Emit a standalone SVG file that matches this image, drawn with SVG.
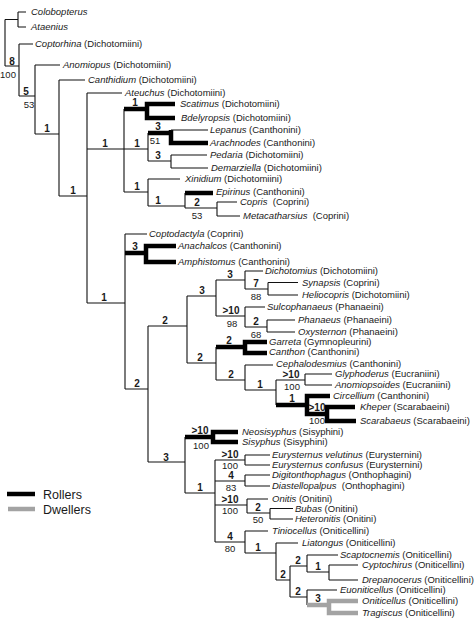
<svg xmlns="http://www.w3.org/2000/svg" width="474" height="628" viewBox="0 0 474 628">
<style>
.t{stroke:#111;stroke-width:1.1;fill:none}
.k{stroke:#000;stroke-width:4.5;fill:none}
.g{stroke:#a3a3a3;stroke-width:4.5;fill:none}
text{font-family:"Liberation Sans",Arial,sans-serif;fill:#1a1a1a}
.lf{font-size:9.5px}
.i{font-style:italic}
.b{font-size:10px;font-weight:bold;text-anchor:middle}
.r{font-size:9.5px;text-anchor:middle}
.lg{font-size:12.5px}
</style>
<rect width="474" height="628" fill="#fff"/>
<g id="connectors">
<path class="t" d="M5,19.5V66M5,19.5H18M5,66H19M18,12V27M18,12H26M18,27H26"/>
<path class="t" d="M19,44V96M19,44H33M19,96H35M35,65V134M35,65H60M35,134H59"/>
<path class="t" d="M59,80V196M59,80H85M59,196H87M87,93V303M87,93H122M87,149H124M87,303H125"/>
<path class="t" d="M124,109V192M124,149H148M124,192H148"/>
<path class="k" d="M124,109H147M175,104H147V118H175"/>
<path class="t" d="M148,133V161M148,161H171M171,155V168M171,155H207M171,168H208"/>
<path class="k" d="M148,133H171M171,130V143H208"/>
<path class="t" d="M171,130H208"/>
<path class="t" d="M148,179V206M148,179H180M148,206H185M185,193V208M185,208H217M217,202V216M217,202H237M217,216H240"/>
<path class="k" d="M185,193H213"/>
<path class="t" d="M125,234V389M125,234H147M125,389H148"/>
<path class="k" d="M125,253H146M176,246H146V262H176"/>
<path class="t" d="M148,326V462M148,326H187M148,462H185M187,296V363M187,296H216M187,363H216"/>
<path class="t" d="M216,280V316M216,280H245M216,316H245M245,271V289M245,271H263M245,289H268M268,282.5V295M268,282.5H298M268,295H298"/>
<path class="t" d="M245,307V327M245,307H265M245,327H267M267,320V332M267,320H295M267,332H295"/>
<path class="t" d="M216,347V380M216,380H245M245,365V390M245,365H273M245,390H276M276,380V405M276,380H305M305,374V385M305,374H332M305,385H332"/>
<path class="k" d="M216,347H245M267,342H245V353H267"/>
<path class="k" d="M276,405H307M330,396H307V414H327M355,407H327V421H356"/>
<path class="t" d="M185,437V493M185,493H215M215,460V542M215,460H245M215,481H245M215,505H247M215,542H245"/>
<path class="k" d="M185,437H213M238,432H213V442H238"/>
<path class="t" d="M245,455V465M245,455H270M245,465H270M245,475V486M245,475H270M245,486H270"/>
<path class="t" d="M247,499V513M247,499H268M247,513H270M270,508.5V519M270,508.5H293M270,519H293"/>
<path class="t" d="M245,531V553M245,531H268M245,553H276M276,543V580M276,543H298M276,580H290M290,566V597M290,566H307M290,597H307"/>
<path class="t" d="M307,555V572M307,555H338M307,572H329M329,565V580M329,565H358M329,580H358M307,590V605M307,590H337"/>
<path class="g" d="M307,605H329M358,601H329V613H358"/>
</g>
<g id="support">
<text class="b" x="12" y="64.5">8</text><text class="r" x="8" y="77.5">100</text>
<text class="b" x="26" y="94.5">5</text><text class="r" x="29" y="107.5">53</text>
<text class="b" x="47" y="132">1</text>
<text class="b" x="73" y="194">1</text>
<text class="b" x="105" y="147">1</text>
<text class="b" x="135" y="106">1</text>
<text class="b" x="137" y="147">1</text>
<text class="b" x="158" y="130">3</text><text class="r" x="155" y="144">51</text>
<text class="b" x="158" y="159">3</text>
<text class="b" x="137" y="190">1</text>
<text class="b" x="158" y="204">1</text>
<text class="b" x="197" y="206">2</text><text class="r" x="197" y="219">53</text>
<text class="b" x="104" y="301">1</text>
<text class="b" x="135" y="250">3</text>
<text class="b" x="137" y="387">2</text>
<text class="b" x="165" y="324">2</text>
<text class="b" x="202" y="294">3</text>
<text class="b" x="230" y="278">3</text>
<text class="b" x="256" y="287">7</text><text class="r" x="256" y="299.5">88</text>
<text class="b" x="231" y="314">&gt;10</text><text class="r" x="232" y="326.5">98</text>
<text class="b" x="256" y="325">2</text><text class="r" x="256" y="337.5">68</text>
<text class="b" x="200" y="361">2</text>
<text class="b" x="229" y="344">2</text>
<text class="b" x="231" y="378">2</text>
<text class="b" x="260" y="388">1</text>
<text class="b" x="291" y="378">&gt;10</text><text class="r" x="292" y="390">100</text>
<text class="b" x="292" y="402">1</text>
<text class="b" x="317" y="411">&gt;10</text><text class="r" x="317" y="424">100</text>
<text class="b" x="166" y="461">3</text>
<text class="b" x="200" y="434">&gt;10</text><text class="r" x="201" y="449">100</text>
<text class="b" x="200" y="491">1</text>
<text class="b" x="230" y="458">&gt;10</text><text class="r" x="230" y="469">100</text>
<text class="b" x="231" y="479">4</text><text class="r" x="231" y="491">83</text>
<text class="b" x="230" y="503">&gt;10</text><text class="r" x="230" y="514">100</text>
<text class="b" x="258" y="511">2</text><text class="r" x="258" y="523">50</text>
<text class="b" x="230" y="540">4</text><text class="r" x="230" y="552">80</text>
<text class="b" x="258" y="551">1</text>
<text class="b" x="283" y="578">2</text>
<text class="b" x="298" y="564">2</text>
<text class="b" x="318" y="570">1</text>
<text class="b" x="298" y="595">2</text>
<text class="b" x="318" y="602">3</text>
</g>
<g class="lf">
<g id="colobopterus"><text x="31" y="15.4"><tspan class="i">Colobopterus</tspan></text></g>
<g id="ataenius"><text x="31" y="30.4"><tspan class="i">Ataenius</tspan></text></g>
<g id="coptorhina"><text x="35" y="47.4"><tspan class="i">Coptorhina</tspan> (Dichotomiini)</text></g>
<g id="anomiopus"><text x="63" y="68.4"><tspan class="i">Anomiopus</tspan> (Dichotomiini)</text></g>
<g id="canthidium"><text x="88" y="83.4"><tspan class="i">Canthidium</tspan> (Dichotomiini)</text></g>
<g id="ateuchus"><text x="125" y="96.4"><tspan class="i">Ateuchus</tspan> (Dichotomiini)</text></g>
<g id="scatimus"><text x="180" y="107.4"><tspan class="i">Scatimus</tspan> (Dichotomiini)</text></g>
<g id="bdelyropsis"><text x="181" y="121.4"><tspan class="i">Bdelyropsis</tspan> (Dichotomiini)</text></g>
<g id="lepanus"><text x="210" y="133.4"><tspan class="i">Lepanus</tspan> (Canthonini)</text></g>
<g id="arachnodes"><text x="210" y="146.4"><tspan class="i">Arachnodes</tspan> (Canthonini)</text></g>
<g id="pedaria"><text x="210" y="158.4"><tspan class="i">Pedaria</tspan> (Dichotomiini)</text></g>
<g id="demarziella"><text x="211" y="171.4"><tspan class="i">Demarziella</tspan> (Dichotomiini)</text></g>
<g id="xinidium"><text x="185" y="182.4"><tspan class="i">Xinidium</tspan> (Dichotomiini)</text></g>
<g id="epirinus"><text x="216" y="195.4"><tspan class="i">Epirinus</tspan> (Canthonini)</text></g>
<g id="copris"><text x="240" y="205.4"><tspan class="i">Copris</tspan> &#160;(Coprini)</text></g>
<g id="metacatharsius"><text x="243" y="219.4"><tspan class="i">Metacatharsius</tspan> &#160;(Coprini)</text></g>
<g id="coptodactyla"><text x="149" y="237.4"><tspan class="i">Coptodactyla</tspan> (Coprini)</text></g>
<g id="anachalcos"><text x="178" y="249.4"><tspan class="i">Anachalcos</tspan> (Canthonini)</text></g>
<g id="amphistomus"><text x="178" y="265.4"><tspan class="i">Amphistomus</tspan> (Canthonini)</text></g>
<g id="dichotomius"><text x="265" y="274.4"><tspan class="i">Dichotomius</tspan> (Dichotomiini)</text></g>
<g id="synapsis"><text x="302" y="285.9"><tspan class="i">Synapsis</tspan> (Coprini)</text></g>
<g id="heliocopris"><text x="302" y="298.4"><tspan class="i">Heliocopris</tspan> (Dichotomiini)</text></g>
<g id="sulcophanaeus"><text x="267" y="310.4"><tspan class="i">Sulcophanaeus</tspan> (Phanaeini)</text></g>
<g id="phanaeus"><text x="298" y="323.4"><tspan class="i">Phanaeus</tspan> (Phanaeini)</text></g>
<g id="oxysternon"><text x="298" y="335.4"><tspan class="i">Oxysternon</tspan> (Phanaeini)</text></g>
<g id="garreta"><text x="269" y="345.4"><tspan class="i">Garreta</tspan> (Gymnopleurini)</text></g>
<g id="canthon"><text x="269" y="355.4"><tspan class="i">Canthon</tspan> (Canthonini)</text></g>
<g id="cephalodesmius"><text x="276" y="367.4"><tspan class="i">Cephalodesmius</tspan> (Canthonini)</text></g>
<g id="glyphoderus"><text x="335" y="377.4"><tspan class="i">Glyphoderus</tspan> (Eucraniini)</text></g>
<g id="anomiopsoides"><text x="335" y="388.4"><tspan class="i">Anomiopsoides</tspan> (Eucraniini)</text></g>
<g id="circellium"><text x="333" y="399.4"><tspan class="i">Circellium</tspan> (Canthonini)</text></g>
<g id="kheper"><text x="360" y="410.4"><tspan class="i">Kheper</tspan> (Scarabaeini)</text></g>
<g id="scarabaeus"><text x="360" y="424.4"><tspan class="i">Scarabaeus</tspan> (Scarabaeini)</text></g>
<g id="neosisyphus"><text x="242" y="435.4"><tspan class="i">Neosisyphus</tspan> (Sisyphini)</text></g>
<g id="sisyphus"><text x="242" y="445.4"><tspan class="i">Sisyphus</tspan> (Sisyphini)</text></g>
<g id="eurysternus-velutinus"><text x="272" y="458.4"><tspan class="i">Eurysternus velutinus</tspan> (Eurysternini)</text></g>
<g id="eurysternus-confusus"><text x="272" y="468.4"><tspan class="i">Eurysternus confusus</tspan> (Eurysternini)</text></g>
<g id="digitonthophagus"><text x="272" y="478.4"><tspan class="i">Digitonthophagus</tspan> (Onthophagini)</text></g>
<g id="diastellopalpus"><text x="272" y="489.4"><tspan class="i">Diastellopalpus</tspan> &#160;(Onthophagini)</text></g>
<g id="onitis"><text x="272" y="502.4"><tspan class="i">Onitis</tspan> (Onitini)</text></g>
<g id="bubas"><text x="295" y="511.9"><tspan class="i">Bubas</tspan> (Onitini)</text></g>
<g id="heteronitis"><text x="295" y="522.4"><tspan class="i">Heteronitis</tspan> (Onitini)</text></g>
<g id="tiniocellus"><text x="272" y="534.4"><tspan class="i">Tiniocellus</tspan> (Oniticellini)</text></g>
<g id="liatongus"><text x="302" y="546.4"><tspan class="i">Liatongus</tspan> (Oniticellini)</text></g>
<g id="scaptocnemis"><text x="340" y="558.4"><tspan class="i">Scaptocnemis</tspan> (Oniticellini)</text></g>
<g id="cyptochirus"><text x="362" y="568.4"><tspan class="i">Cyptochirus</tspan> (Oniticellini)</text></g>
<g id="drepanocerus"><text x="362" y="583.4"><tspan class="i">Drepanocerus</tspan> (Oniticellini)</text></g>
<g id="euoniticellus"><text x="340" y="593.4"><tspan class="i">Euoniticellus</tspan> (Oniticellini)</text></g>
<g id="oniticellus"><text x="362" y="604.4"><tspan class="i">Oniticellus</tspan> (Oniticellini)</text></g>
<g id="tragiscus"><text x="362" y="616.4"><tspan class="i">Tragiscus</tspan> (Oniticellini)</text></g>
</g>
<g id="legend">
<path class="k" d="M7,494H35"/>
<path class="g" d="M8,509H35"/>
<text class="lg" x="43" y="498.5">Rollers</text>
<text class="lg" x="43" y="514">Dwellers</text>
</g>
</svg>
